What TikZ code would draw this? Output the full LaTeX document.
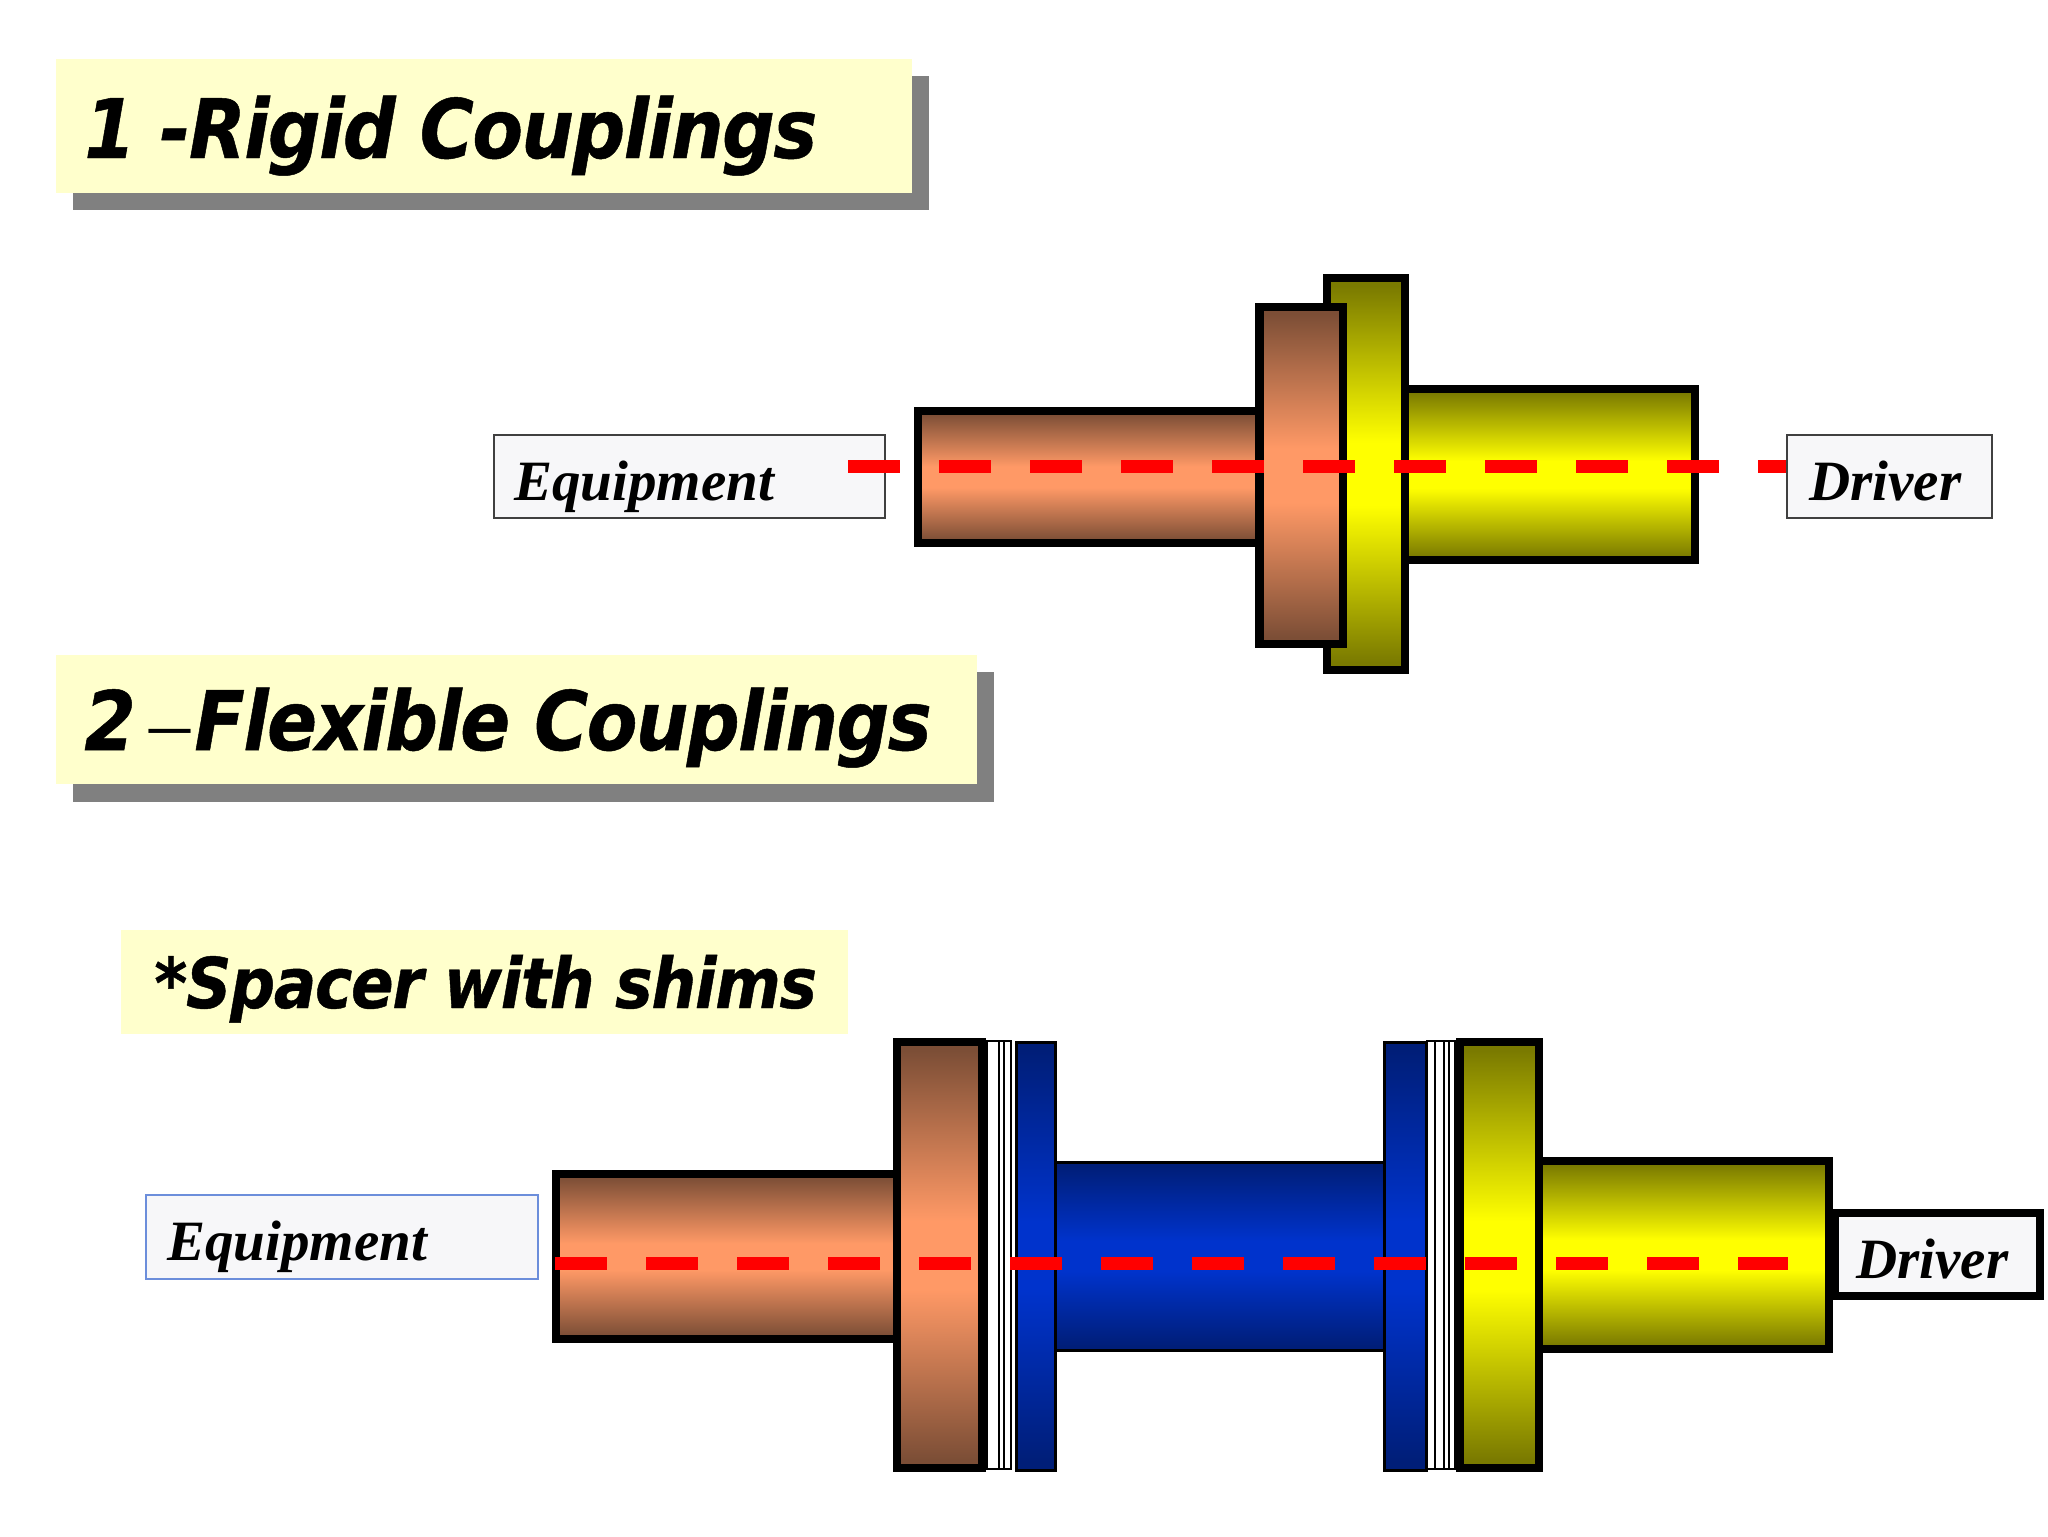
\documentclass[tikz,border=0pt]{standalone}
\usepackage{fontspec}
\setmainfont{Liberation Serif}
\newfontfamily\titlefont[LetterSpace=-1.9,BoldFeatures={FakeBold=0.6},BoldItalicFeatures={FakeBold=0.6}]{DejaVu Sans Condensed}
\definecolor{titlebg}{HTML}{FFFFCC}
\definecolor{shadowgray}{HTML}{808080}
\definecolor{labelbg}{HTML}{F7F7F9}
\definecolor{browndark}{HTML}{7C4E36}
\definecolor{brownlight}{HTML}{FF9966}
\definecolor{yellowdark}{HTML}{7A7A00}
\definecolor{yellowlight}{HTML}{FFFF00}
\definecolor{bluedark}{HTML}{001E78}
\definecolor{bluelight}{HTML}{0033CC}
\definecolor{edgeblue}{HTML}{6C8EDB}
\definecolor{dashred}{HTML}{FF0000}
\pgfdeclareverticalshading{brownshade}{100bp}{color(0bp)=(browndark);color(26bp)=(browndark);color(46bp)=(brownlight);color(54bp)=(brownlight);color(74bp)=(browndark);color(100bp)=(browndark)}
\pgfdeclareverticalshading{yellowshade}{100bp}{color(0bp)=(yellowdark);color(26bp)=(yellowdark);color(46bp)=(yellowlight);color(54bp)=(yellowlight);color(74bp)=(yellowdark);color(100bp)=(yellowdark)}
\pgfdeclareverticalshading{blueshade}{100bp}{color(0bp)=(bluedark);color(26bp)=(bluedark);color(46bp)=(bluelight);color(54bp)=(bluelight);color(74bp)=(bluedark);color(100bp)=(bluedark)}
\tikzset{
  titlebox/.style={fill=titlebg,draw=none},
  titleshadow/.style={fill=shadowgray,draw=none},
  titletext/.style={anchor=base west,inner sep=0pt,font=\titlefont\fontsize{41}{41}\selectfont\bfseries\itshape},
  subtitletext/.style={anchor=base west,inner sep=0pt,font=\titlefont\fontsize{35}{35}\selectfont\bfseries\itshape},
  labeltext/.style={anchor=base west,inner sep=0pt,font=\fontsize{28.5}{28.5}\selectfont\bfseries\itshape},
  labelbox/.style={fill=labelbg,draw=black!75,line width=0.7pt},
  labelboxblue/.style={fill=labelbg,draw=edgeblue,line width=0.7pt},
  labelboxheavy/.style={fill=labelbg,draw=black,line width=4.2pt},
  brownpart/.style={draw=black,line width=4.2pt,shading=brownshade},
  yellowpart/.style={draw=black,line width=4.2pt,shading=yellowshade},
  bluepart/.style={draw=black,line width=1.5pt,shading=blueshade},
  shim/.style={fill=white,draw=black,line width=1.2pt},
  axisline/.style={draw=dashred,line width=6.5pt,dash pattern=on 26pt off 19.5pt},
}
\begin{document}
\begin{tikzpicture}[x=0.5pt,y=-0.5pt]
\useasboundingbox[fill=white] (0,0) rectangle (2048,1536);
% titles
\fill[titleshadow] (73,76) rectangle (929,210);
\fill[titlebox] (56,59) rectangle (912,193);
\node[titletext] (t1) at (84,158) {1 -Rigid Couplings};
\fill[titleshadow] (73,672) rectangle (994,802);
\fill[titlebox] (56,655) rectangle (977,784);
\node[titletext] (t2) at (84,750) {2\,{\mdseries\normalfont\itshape –}\kern2pt Flexible Couplings};
\fill[titlebox] (121,930) rectangle (848,1034);
\node[subtitletext] (t3) at (154,1008) {*Spacer with shims};
% rigid coupling
\draw[labelbox] (494,435) rectangle (885,518);
\node[labeltext] (eq1) at (514,500) {Equipment};
\path[brownpart] (918,411) rectangle (1262,543);
\path[yellowpart] (1327,278) rectangle (1405,670);
\path[brownpart] (1259.5,307) rectangle (1343,644);
\path[yellowpart] (1405,389) rectangle (1695,560);
\coordinate (a1) at (848,466);
\coordinate (b1) at (1787,466);
\draw[axisline] (a1) -- (b1);
\draw[labelbox] (1787,435) rectangle (1992,518);
\node[labeltext] (dr1) at (1809,500) {Driver};
% flexible coupling
\draw[labelboxblue] (146,1195) rectangle (538,1279);
\node[labeltext] (eq2) at (167,1260) {Equipment};
\path[brownpart] (556,1174) rectangle (897,1339);
\path[brownpart] (897,1042) rectangle (982,1468);
\fill[white] (986,1041) rectangle (1012,1469);
\draw[shim] (987,1041) rectangle (999,1469);
\draw[shim] (999,1041) rectangle (1004,1469);
\draw[shim] (1004,1041) rectangle (1011,1469);
\path[bluepart] (1055,1162) rectangle (1384,1350);
\path[bluepart] (1016,1042) rectangle (1055,1470);
\path[bluepart] (1384,1042) rectangle (1426,1470);
\draw[shim] (1427,1041) rectangle (1435,1469);
\draw[shim] (1435,1041) rectangle (1444,1469);
\draw[shim] (1444,1041) rectangle (1449,1469);
\draw[shim] (1449,1041) rectangle (1455,1469);
\path[yellowpart] (1539,1161) rectangle (1829,1349);
\path[yellowpart] (1460,1042) rectangle (1539,1468);
\draw[labelboxheavy] (1835,1213) rectangle (2040,1296);
\node[labeltext] (dr2) at (1856,1278) {Driver};
\coordinate (a2) at (555,1263.5);
\coordinate (b2) at (1788,1263.5);
\draw[axisline] (a2) -- (b2);
\end{tikzpicture}
\end{document}
